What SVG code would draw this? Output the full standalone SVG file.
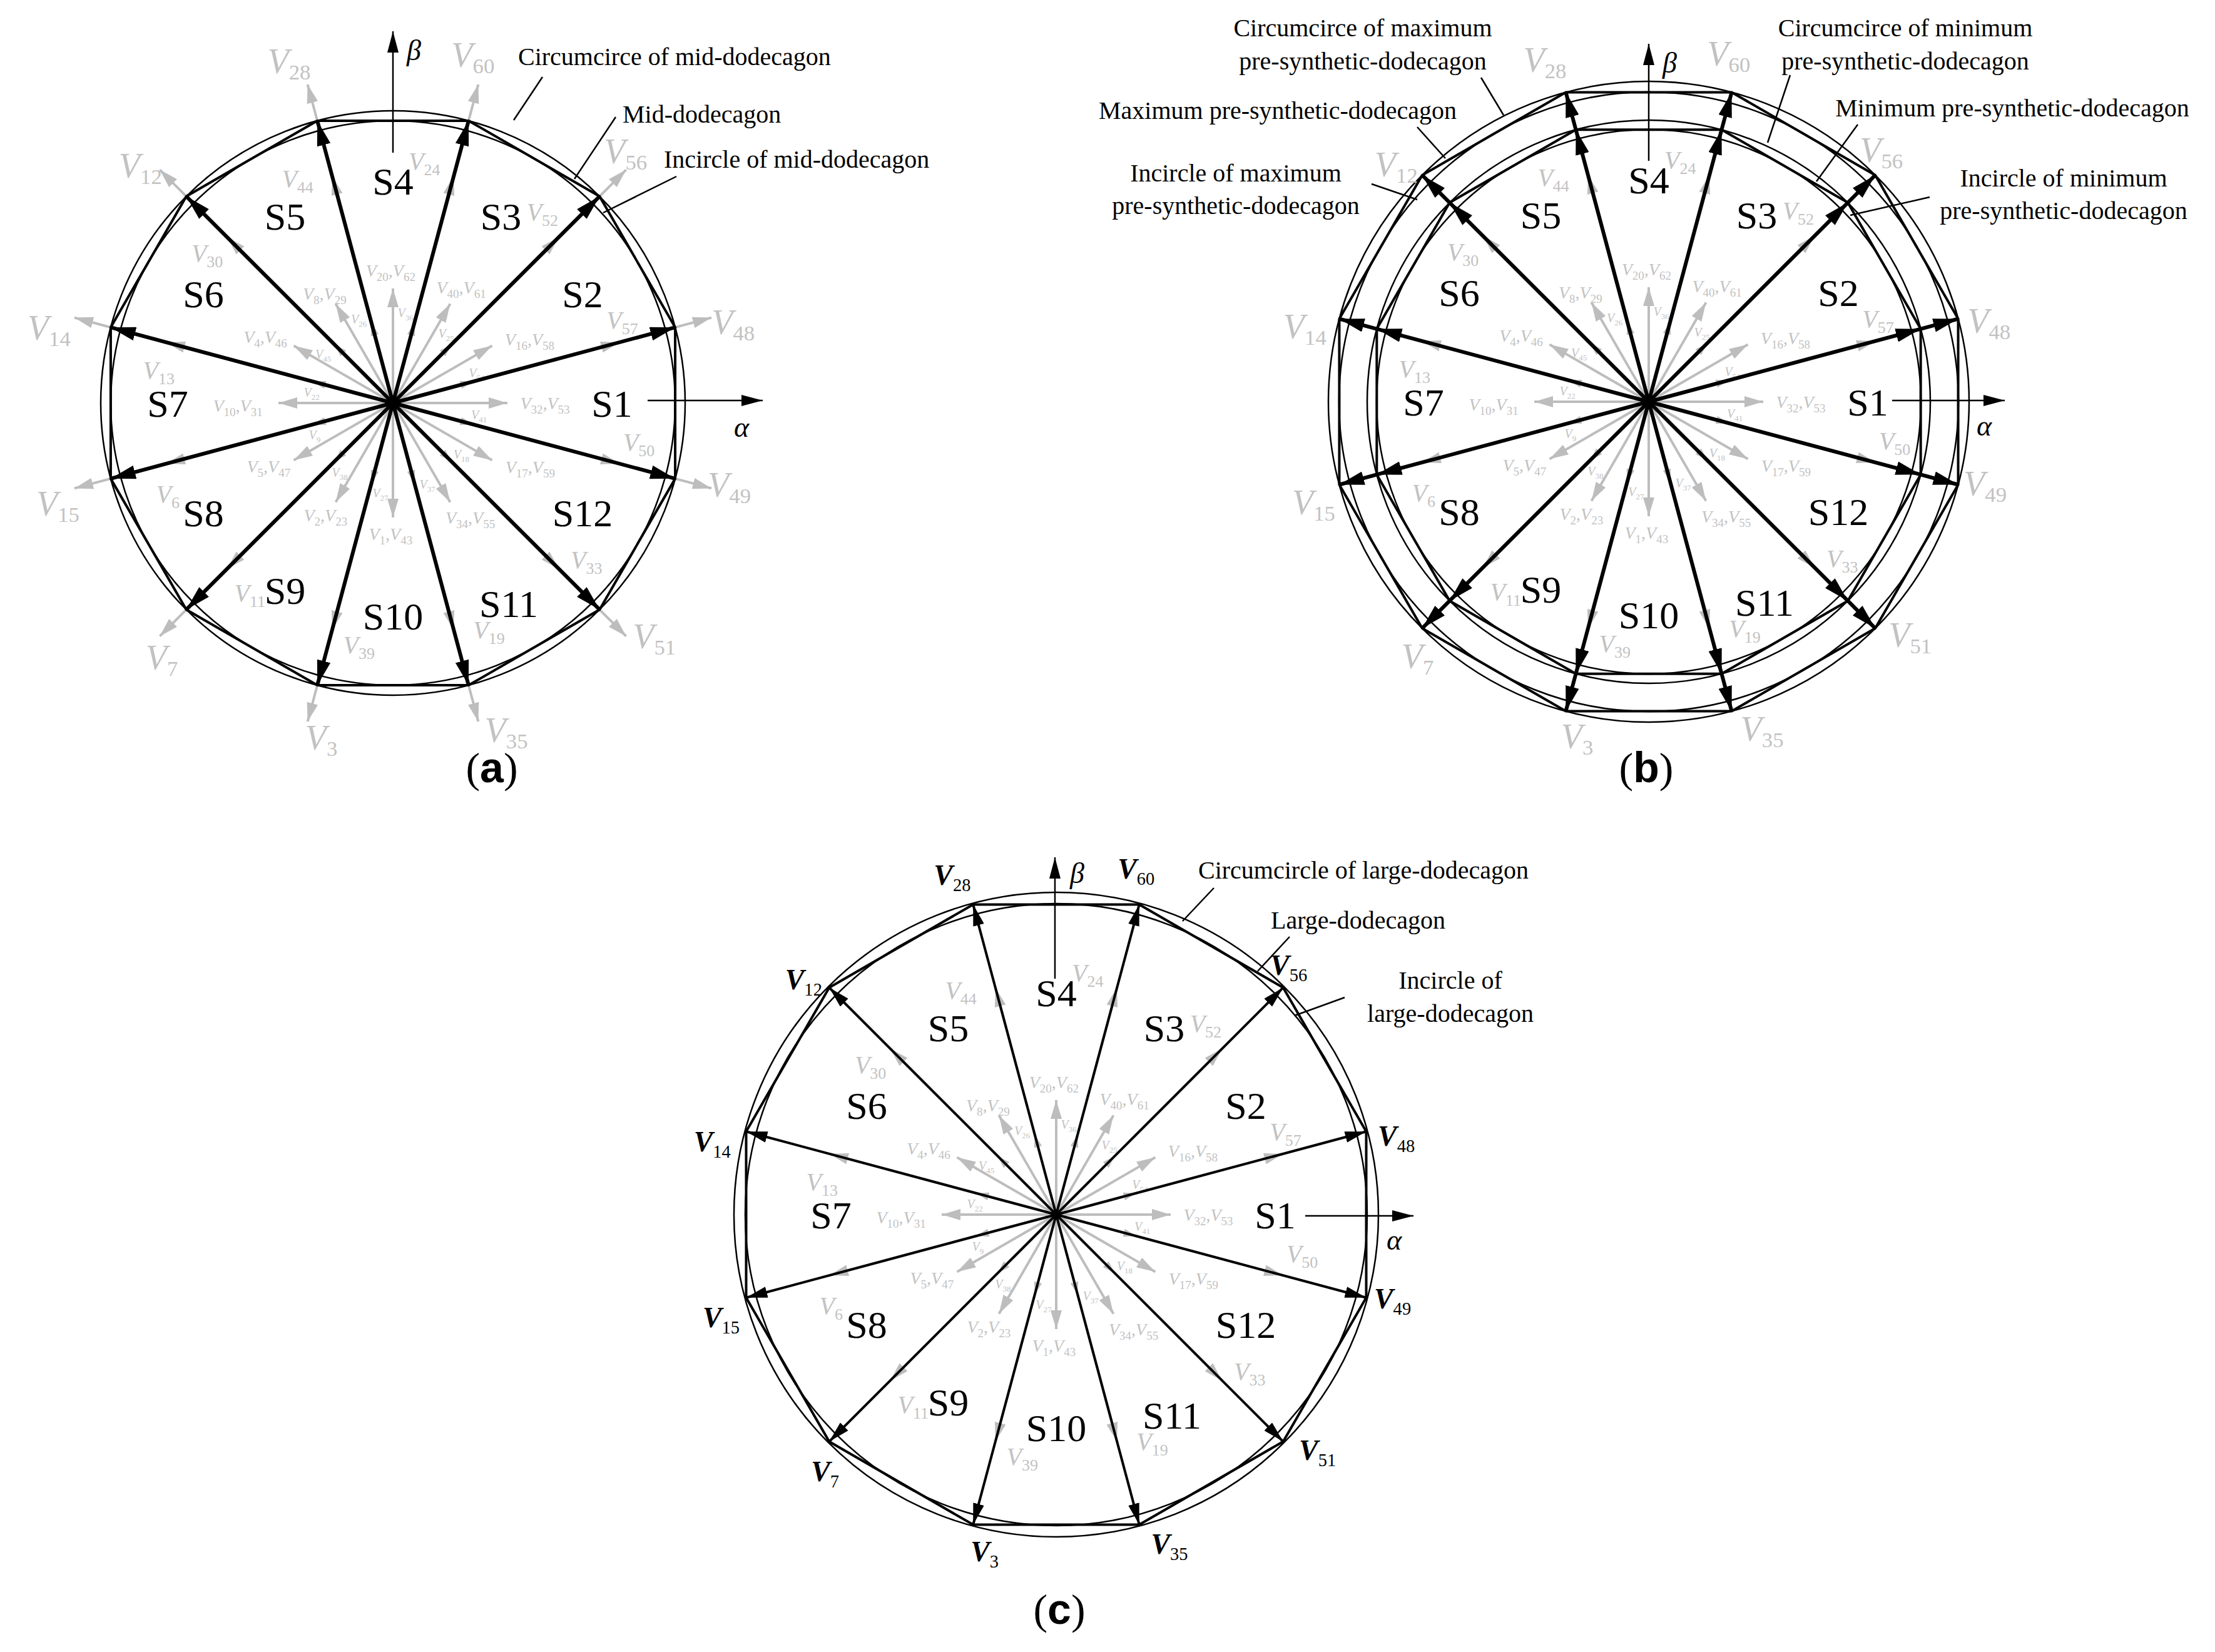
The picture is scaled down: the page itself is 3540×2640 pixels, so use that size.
<svg xmlns="http://www.w3.org/2000/svg" xmlns:xlink="http://www.w3.org/1999/xlink" width="3540" height="2640" viewBox="0 0 3540 2640">
<style>
text{font-family:"Liberation Serif","Times New Roman",serif}
.g{stroke:#bdbdbd;stroke-width:4;fill:none}
.gs{stroke:#bdbdbd;stroke-width:3;fill:none}
.k{stroke:#000;stroke-width:6;fill:none}
.kt{stroke:#000;stroke-width:4;fill:none}
.c{stroke:#000;stroke-width:2.5;fill:none}
.ln{stroke:#000;stroke-width:2.5}
.v{font-style:italic}
.ov{font-style:italic;font-weight:var(--vw,normal)}
.gl{fill:#c2c2c2}
.lo{font-size:56px}
.lm{font-size:40px}
.li{font-size:28px}
.ls{font-size:20px}
.lc{font-size:46px;--vw:bold}
.sec{font-size:62px;text-anchor:middle}
.cap{font-size:40px}
.ax{font-size:46px;font-style:italic}
.t{text-anchor:middle}
</style>
<defs>
<marker id="ab" viewBox="0 0 10 10" refX="10" refY="5" markerWidth="40" markerHeight="22" markerUnits="userSpaceOnUse" orient="auto" preserveAspectRatio="none"><path d="M0,0L10,5L0,10z" fill="#000"/></marker>
<marker id="abt" viewBox="0 0 10 10" refX="10" refY="5" markerWidth="34" markerHeight="18" markerUnits="userSpaceOnUse" orient="auto" preserveAspectRatio="none"><path d="M0,0L10,5L0,10z" fill="#000"/></marker>
<marker id="ax" viewBox="0 0 10 10" refX="10" refY="5" markerWidth="34" markerHeight="18" markerUnits="userSpaceOnUse" orient="auto" preserveAspectRatio="none"><path d="M0,0L10,5L0,10z" fill="#000"/></marker>
<marker id="ag" viewBox="0 0 10 10" refX="10" refY="5" markerWidth="30" markerHeight="18" markerUnits="userSpaceOnUse" orient="auto" preserveAspectRatio="none"><path d="M0,0L10,5L0,10z" fill="#bdbdbd"/></marker>
<marker id="as" viewBox="0 0 10 10" refX="10" refY="5" markerWidth="20" markerHeight="13" markerUnits="userSpaceOnUse" orient="auto" preserveAspectRatio="none"><path d="M0,0L10,5L0,10z" fill="#bdbdbd"/></marker>
<polygon id="dod" vector-effect="non-scaling-stroke" points="96.59,-25.88 70.71,-70.71 25.88,-96.59 -25.88,-96.59 -70.71,-70.71 -96.59,-25.88 -96.59,25.88 -70.71,70.71 -25.88,96.59 25.88,96.59 70.71,70.71 96.59,25.88"/>
<g id="star">
<g class="g" marker-end="url(#ag)">
<line x2="183" transform="rotate(0)"/><line x2="183" transform="rotate(-30)"/><line x2="183" transform="rotate(-60)"/><line x2="183" transform="rotate(-90)"/><line x2="183" transform="rotate(-120)"/><line x2="183" transform="rotate(-150)"/><line x2="183" transform="rotate(-180)"/><line x2="183" transform="rotate(-210)"/><line x2="183" transform="rotate(-240)"/><line x2="183" transform="rotate(-270)"/><line x2="183" transform="rotate(-300)"/><line x2="183" transform="rotate(-330)"/>
<line x2="375" transform="rotate(-15)"/><line x2="375" transform="rotate(-45)"/><line x2="375" transform="rotate(-75)"/><line x2="375" transform="rotate(-105)"/><line x2="375" transform="rotate(-135)"/><line x2="375" transform="rotate(-165)"/><line x2="375" transform="rotate(-195)"/><line x2="375" transform="rotate(-225)"/><line x2="375" transform="rotate(-255)"/><line x2="375" transform="rotate(-285)"/><line x2="375" transform="rotate(-315)"/><line x2="375" transform="rotate(-345)"/>
</g>
<g class="gs" marker-end="url(#as)">
<line x2="132" transform="rotate(-15)"/><line x2="132" transform="rotate(-45)"/><line x2="132" transform="rotate(-75)"/><line x2="132" transform="rotate(-105)"/><line x2="132" transform="rotate(-135)"/><line x2="132" transform="rotate(-165)"/><line x2="132" transform="rotate(-195)"/><line x2="132" transform="rotate(-225)"/><line x2="132" transform="rotate(-255)"/><line x2="132" transform="rotate(-285)"/><line x2="132" transform="rotate(-315)"/><line x2="132" transform="rotate(-345)"/>
</g>
<g class="gl lm t">
<text y="14" transform="rotate(-20) translate(390) rotate(20)"><tspan class="v">V</tspan><tspan font-size="26" dy="9">57</tspan></text>
<text y="14" transform="rotate(-52) translate(388) rotate(52)"><tspan class="v">V</tspan><tspan font-size="26" dy="9">52</tspan></text>
<text y="14" transform="rotate(-82.6) translate(390) rotate(82.6)"><tspan class="v">V</tspan><tspan font-size="26" dy="9">24</tspan></text>
<text y="14" transform="rotate(-113) translate(390) rotate(113)"><tspan class="v">V</tspan><tspan font-size="26" dy="9">44</tspan></text>
<text y="14" transform="rotate(-141) translate(382) rotate(141)"><tspan class="v">V</tspan><tspan font-size="26" dy="9">30</tspan></text>
<text y="14" transform="rotate(-172) translate(378) rotate(172)"><tspan class="v">V</tspan><tspan font-size="26" dy="9">13</tspan></text>
<text y="14" transform="rotate(-202) translate(388) rotate(202)"><tspan class="v">V</tspan><tspan font-size="26" dy="9">6</tspan></text>
<text y="14" transform="rotate(-233) translate(380) rotate(233)"><tspan class="v">V</tspan><tspan font-size="26" dy="9">11</tspan></text>
<text y="14" transform="rotate(-262) translate(390) rotate(262)"><tspan class="v">V</tspan><tspan font-size="26" dy="9">39</tspan></text>
<text y="14" transform="rotate(-293) translate(393) rotate(293)"><tspan class="v">V</tspan><tspan font-size="26" dy="9">19</tspan></text>
<text y="14" transform="rotate(-321) translate(398) rotate(321)"><tspan class="v">V</tspan><tspan font-size="26" dy="9">33</tspan></text>
<text y="14" transform="rotate(-351) translate(398) rotate(351)"><tspan class="v">V</tspan><tspan font-size="26" dy="9">50</tspan></text>
</g>
<g class="gl li t">
<text y="10" transform="rotate(0) translate(243) rotate(0)"><tspan class="v">V</tspan><tspan font-size="19" dy="7">32</tspan><tspan dy="-7">,</tspan><tspan class="v">V</tspan><tspan font-size="19" dy="7">53</tspan></text>
<text y="10" transform="rotate(-25) translate(241) rotate(25)"><tspan class="v">V</tspan><tspan font-size="19" dy="7">16</tspan><tspan dy="-7">,</tspan><tspan class="v">V</tspan><tspan font-size="19" dy="7">58</tspan></text>
<text y="10" transform="rotate(-59.5) translate(215) rotate(59.5)"><tspan class="v">V</tspan><tspan font-size="19" dy="7">40</tspan><tspan dy="-7">,</tspan><tspan class="v">V</tspan><tspan font-size="19" dy="7">61</tspan></text>
<text y="10" transform="rotate(-91) translate(212) rotate(91)"><tspan class="v">V</tspan><tspan font-size="19" dy="7">20</tspan><tspan dy="-7">,</tspan><tspan class="v">V</tspan><tspan font-size="19" dy="7">62</tspan></text>
<text y="10" transform="rotate(-122) translate(206) rotate(122)"><tspan class="v">V</tspan><tspan font-size="19" dy="7">8</tspan><tspan dy="-7">,</tspan><tspan class="v">V</tspan><tspan font-size="19" dy="7">29</tspan></text>
<text y="10" transform="rotate(-152.5) translate(230) rotate(152.5)"><tspan class="v">V</tspan><tspan font-size="19" dy="7">4</tspan><tspan dy="-7">,</tspan><tspan class="v">V</tspan><tspan font-size="19" dy="7">46</tspan></text>
<text y="10" transform="rotate(-181) translate(248) rotate(181)"><tspan class="v">V</tspan><tspan font-size="19" dy="7">10</tspan><tspan dy="-7">,</tspan><tspan class="v">V</tspan><tspan font-size="19" dy="7">31</tspan></text>
<text y="10" transform="rotate(-207) translate(223) rotate(207)"><tspan class="v">V</tspan><tspan font-size="19" dy="7">5</tspan><tspan dy="-7">,</tspan><tspan class="v">V</tspan><tspan font-size="19" dy="7">47</tspan></text>
<text y="10" transform="rotate(-239) translate(209) rotate(239)"><tspan class="v">V</tspan><tspan font-size="19" dy="7">2</tspan><tspan dy="-7">,</tspan><tspan class="v">V</tspan><tspan font-size="19" dy="7">23</tspan></text>
<text y="10" transform="rotate(-269) translate(209) rotate(269)"><tspan class="v">V</tspan><tspan font-size="19" dy="7">1</tspan><tspan dy="-7">,</tspan><tspan class="v">V</tspan><tspan font-size="19" dy="7">43</tspan></text>
<text y="10" transform="rotate(-304) translate(221) rotate(304)"><tspan class="v">V</tspan><tspan font-size="19" dy="7">34</tspan><tspan dy="-7">,</tspan><tspan class="v">V</tspan><tspan font-size="19" dy="7">55</tspan></text>
<text y="10" transform="rotate(-335) translate(242) rotate(335)"><tspan class="v">V</tspan><tspan font-size="19" dy="7">17</tspan><tspan dy="-7">,</tspan><tspan class="v">V</tspan><tspan font-size="19" dy="7">59</tspan></text>
</g>
<g class="gl ls t">
<text y="7" transform="rotate(-19.6) translate(142) rotate(19.6)"><tspan class="v">V</tspan><tspan font-size="13" dy="5">54</tspan></text>
<text y="7" transform="rotate(-52.6) translate(140) rotate(52.6)"><tspan class="v">V</tspan><tspan font-size="13" dy="5">25</tspan></text>
<text y="7" transform="rotate(-82) translate(145) rotate(82)"><tspan class="v">V</tspan><tspan font-size="13" dy="5">36</tspan></text>
<text y="7" transform="rotate(-112) translate(145) rotate(112)"><tspan class="v">V</tspan><tspan font-size="13" dy="5">26</tspan></text>
<text y="7" transform="rotate(-145) translate(136) rotate(145)"><tspan class="v">V</tspan><tspan font-size="13" dy="5">45</tspan></text>
<text y="7" transform="rotate(-172.5) translate(131) rotate(172.5)"><tspan class="v">V</tspan><tspan font-size="13" dy="5">22</tspan></text>
<text y="7" transform="rotate(-202) translate(135) rotate(202)"><tspan class="v">V</tspan><tspan font-size="13" dy="5">9</tspan></text>
<text y="7" transform="rotate(-232.5) translate(140) rotate(232.5)"><tspan class="v">V</tspan><tspan font-size="13" dy="5">38</tspan></text>
<text y="7" transform="rotate(-262) translate(145) rotate(262)"><tspan class="v">V</tspan><tspan font-size="13" dy="5">27</tspan></text>
<text y="7" transform="rotate(-293) translate(141) rotate(293)"><tspan class="v">V</tspan><tspan font-size="13" dy="5">37</tspan></text>
<text y="7" transform="rotate(-323) translate(137) rotate(323)"><tspan class="v">V</tspan><tspan font-size="13" dy="5">18</tspan></text>
<text y="7" transform="rotate(-352) translate(139) rotate(352)"><tspan class="v">V</tspan><tspan font-size="13" dy="5">41</tspan></text>
</g>
<g class="sec">
<text y="22" x="350">S1</text>
<text y="22" transform="rotate(-30) translate(350) rotate(30)">S2</text>
<text y="22" transform="rotate(-60) translate(345) rotate(60)">S3</text>
<text y="22" transform="rotate(-90) translate(355) rotate(90)">S4</text>
<text y="22" transform="rotate(-120) translate(345) rotate(120)">S5</text>
<text y="22" transform="rotate(-150) translate(350) rotate(150)">S6</text>
<text y="22" transform="rotate(-180) translate(360) rotate(180)">S7</text>
<text y="22" transform="rotate(-210) translate(350) rotate(210)">S8</text>
<text y="22" transform="rotate(-240) translate(345) rotate(240)">S9</text>
<text y="22" transform="rotate(-270) translate(340) rotate(270)">S10</text>
<text y="22" transform="rotate(-300) translate(370) rotate(300)">S11</text>
<text y="22" transform="rotate(-330) translate(350) rotate(330)">S12</text>
</g>
</g>
<g id="outerlab" class="t">
<text y="16" transform="rotate(-13) translate(558) rotate(13)"><tspan class="ov">V</tspan><tspan font-size="0.62em" dy="10">48</tspan></text>
<text y="16" transform="rotate(-47) translate(545) rotate(47)"><tspan class="ov">V</tspan><tspan font-size="0.62em" dy="10">56</tspan></text>
<text y="16" transform="rotate(-77) translate(568) rotate(77)"><tspan class="ov">V</tspan><tspan font-size="0.62em" dy="10">60</tspan></text>
<text y="16" transform="rotate(-107) translate(568) rotate(107)"><tspan class="ov">V</tspan><tspan font-size="0.62em" dy="10">28</tspan></text>
<text y="16" transform="rotate(-137) translate(552) rotate(137)"><tspan class="ov">V</tspan><tspan font-size="0.62em" dy="10">12</tspan></text>
<text y="16" transform="rotate(-168) translate(562) rotate(168)"><tspan class="ov">V</tspan><tspan font-size="0.62em" dy="10">14</tspan></text>
<text y="16" transform="rotate(-197) translate(560) rotate(197)"><tspan class="ov">V</tspan><tspan font-size="0.62em" dy="10">15</tspan></text>
<text y="16" transform="rotate(-228) translate(552) rotate(228)"><tspan class="ov">V</tspan><tspan font-size="0.62em" dy="10">7</tspan></text>
<text y="16" transform="rotate(-258) translate(550) rotate(258)"><tspan class="ov">V</tspan><tspan font-size="0.62em" dy="10">3</tspan></text>
<text y="16" transform="rotate(-289) translate(556) rotate(289)"><tspan class="ov">V</tspan><tspan font-size="0.62em" dy="10">35</tspan></text>
<text y="16" transform="rotate(-318) translate(562) rotate(318)"><tspan class="ov">V</tspan><tspan font-size="0.62em" dy="10">51</tspan></text>
<text y="16" transform="rotate(-346) translate(554) rotate(346)"><tspan class="ov">V</tspan><tspan font-size="0.62em" dy="10">49</tspan></text>
</g>
</defs>
<rect width="3540" height="2640" fill="#fff"/>

<g id="diagram-a" transform="translate(628,644)">
<g class="g" marker-end="url(#ag)">
<line x2="527" transform="rotate(-15)"/><line x2="527" transform="rotate(-45)"/><line x2="527" transform="rotate(-75)"/><line x2="527" transform="rotate(-105)"/><line x2="527" transform="rotate(-135)"/><line x2="527" transform="rotate(-165)"/><line x2="527" transform="rotate(-195)"/><line x2="527" transform="rotate(-225)"/><line x2="527" transform="rotate(-255)"/><line x2="527" transform="rotate(-285)"/><line x2="527" transform="rotate(-315)"/><line x2="527" transform="rotate(-345)"/>
</g>
<use href="#star"/>
<circle class="c" r="467"/><circle class="c" r="451"/>
<use href="#dod" class="kt" transform="scale(4.67)"/>
<g class="k" marker-end="url(#ab)">
<line x2="467" transform="rotate(-15)"/><line x2="467" transform="rotate(-45)"/><line x2="467" transform="rotate(-75)"/><line x2="467" transform="rotate(-105)"/><line x2="467" transform="rotate(-135)"/><line x2="467" transform="rotate(-165)"/><line x2="467" transform="rotate(-195)"/><line x2="467" transform="rotate(-225)"/><line x2="467" transform="rotate(-255)"/><line x2="467" transform="rotate(-285)"/><line x2="467" transform="rotate(-315)"/><line x2="467" transform="rotate(-345)"/>
</g>
<use href="#outerlab" class="gl lo"/>
<line class="ln" x1="407" y1="-4" x2="591" y2="-4" marker-end="url(#ax)"/>
<text class="ax" x="545" y="54">α</text>
<line class="ln" x1="0" y1="-400" x2="0" y2="-594" marker-end="url(#ax)"/>
<text class="ax" x="22" y="-548">β</text>
</g>

<g id="diagram-b" transform="translate(2635,642)">
<use href="#star"/>
<circle class="c" r="512"/><circle class="c" r="495"/><circle class="c" r="450"/><circle class="c" r="435"/>
<use href="#dod" class="kt" transform="scale(5.12)"/>
<use href="#dod" class="kt" transform="scale(4.5)"/>
<g class="k" marker-mid="url(#ab)" marker-end="url(#ab)">
<polyline points="0,0 450,0 512,0" transform="rotate(-15)"/><polyline points="0,0 450,0 512,0" transform="rotate(-45)"/><polyline points="0,0 450,0 512,0" transform="rotate(-75)"/><polyline points="0,0 450,0 512,0" transform="rotate(-105)"/><polyline points="0,0 450,0 512,0" transform="rotate(-135)"/><polyline points="0,0 450,0 512,0" transform="rotate(-165)"/><polyline points="0,0 450,0 512,0" transform="rotate(-195)"/><polyline points="0,0 450,0 512,0" transform="rotate(-225)"/><polyline points="0,0 450,0 512,0" transform="rotate(-255)"/><polyline points="0,0 450,0 512,0" transform="rotate(-285)"/><polyline points="0,0 450,0 512,0" transform="rotate(-315)"/><polyline points="0,0 450,0 512,0" transform="rotate(-345)"/>
</g>
<use href="#outerlab" class="gl lo"/>
<line class="ln" x1="389" y1="-2" x2="569" y2="-2" marker-end="url(#ax)"/>
<text class="ax" x="524" y="54">α</text>
<line class="ln" x1="0" y1="-385" x2="0" y2="-572" marker-end="url(#ax)"/>
<text class="ax" x="22" y="-526">β</text>
</g>

<g id="diagram-c" transform="translate(1688,1941)">
<use href="#star"/>
<circle class="c" r="515"/><circle class="c" r="497"/>
<use href="#dod" class="kt" transform="scale(5.13)"/>
<g class="kt" marker-end="url(#abt)">
<line x2="513" transform="rotate(-15)"/><line x2="513" transform="rotate(-45)"/><line x2="513" transform="rotate(-75)"/><line x2="513" transform="rotate(-105)"/><line x2="513" transform="rotate(-135)"/><line x2="513" transform="rotate(-165)"/><line x2="513" transform="rotate(-195)"/><line x2="513" transform="rotate(-225)"/><line x2="513" transform="rotate(-255)"/><line x2="513" transform="rotate(-285)"/><line x2="513" transform="rotate(-315)"/><line x2="513" transform="rotate(-345)"/>
</g>
<use href="#outerlab" class="lc"/>
<line class="ln" x1="398" y1="2" x2="571" y2="2" marker-end="url(#ax)"/>
<text class="ax" x="528" y="56">α</text>
<line class="ln" x1="-2" y1="-377" x2="-2" y2="-571" marker-end="url(#ax)"/>
<text class="ax" x="22" y="-530">β</text>
</g>

<g id="connectors">
<line class="ln" x1="867" y1="123" x2="821" y2="192"/>
<line class="ln" x1="984" y1="187" x2="918" y2="286"/>
<line class="ln" x1="1081" y1="282" x2="964" y2="340"/>
<line class="ln" x1="2367" y1="124" x2="2403" y2="184"/>
<line class="ln" x1="2265" y1="203" x2="2310" y2="253"/>
<line class="ln" x1="2192" y1="294" x2="2265" y2="319"/>
<line class="ln" x1="2861" y1="120" x2="2825" y2="228"/>
<line class="ln" x1="2969" y1="199" x2="2903" y2="290"/>
<line class="ln" x1="3084" y1="315" x2="2957" y2="344"/>
<line class="ln" x1="1940" y1="1419" x2="1890" y2="1472"/>
<line class="ln" x1="2061" y1="1497" x2="2010" y2="1552"/>
<line class="ln" x1="2149" y1="1594" x2="2069" y2="1623"/>
</g>

<g id="callouts" class="cap">
<text x="828" y="104">Circumcirce of mid-dodecagon</text>
<text x="995" y="196">Mid-dodecagon</text>
<text x="1061" y="268">Incircle of mid-dodecagon</text>
<text class="t" x="2178" y="58">Circumcirce of maximum</text>
<text class="t" x="2178" y="111">pre-synthetic-dodecagon</text>
<text class="t" x="2042" y="190">Maximum pre-synthetic-dodecagon</text>
<text class="t" x="1975" y="290">Incircle of maximum</text>
<text class="t" x="1975" y="342">pre-synthetic-dodecagon</text>
<text class="t" x="3045" y="58">Circumcirce of minimum</text>
<text class="t" x="3045" y="111">pre-synthetic-dodecagon</text>
<text class="t" x="3216" y="186">Minimum pre-synthetic-dodecagon</text>
<text class="t" x="3298" y="298">Incircle of minimum</text>
<text class="t" x="3298" y="350">pre-synthetic-dodecagon</text>
<text x="1915" y="1404">Circumcircle of large-dodecagon</text>
<text x="2031" y="1484">Large-dodecagon</text>
<text class="t" x="2318" y="1580">Incircle of</text>
<text class="t" x="2318" y="1633">large-dodecagon</text>
</g>

<g id="captions" font-size="68" class="t">
<text x="786" y="1250">(<tspan font-weight="bold" font-family="Liberation Sans, sans-serif">a</tspan>)</text>
<text x="2631" y="1250">(<tspan font-weight="bold" font-family="Liberation Sans, sans-serif">b</tspan>)</text>
<text x="1693" y="2595">(<tspan font-weight="bold" font-family="Liberation Sans, sans-serif">c</tspan>)</text>
</g>
</svg>
